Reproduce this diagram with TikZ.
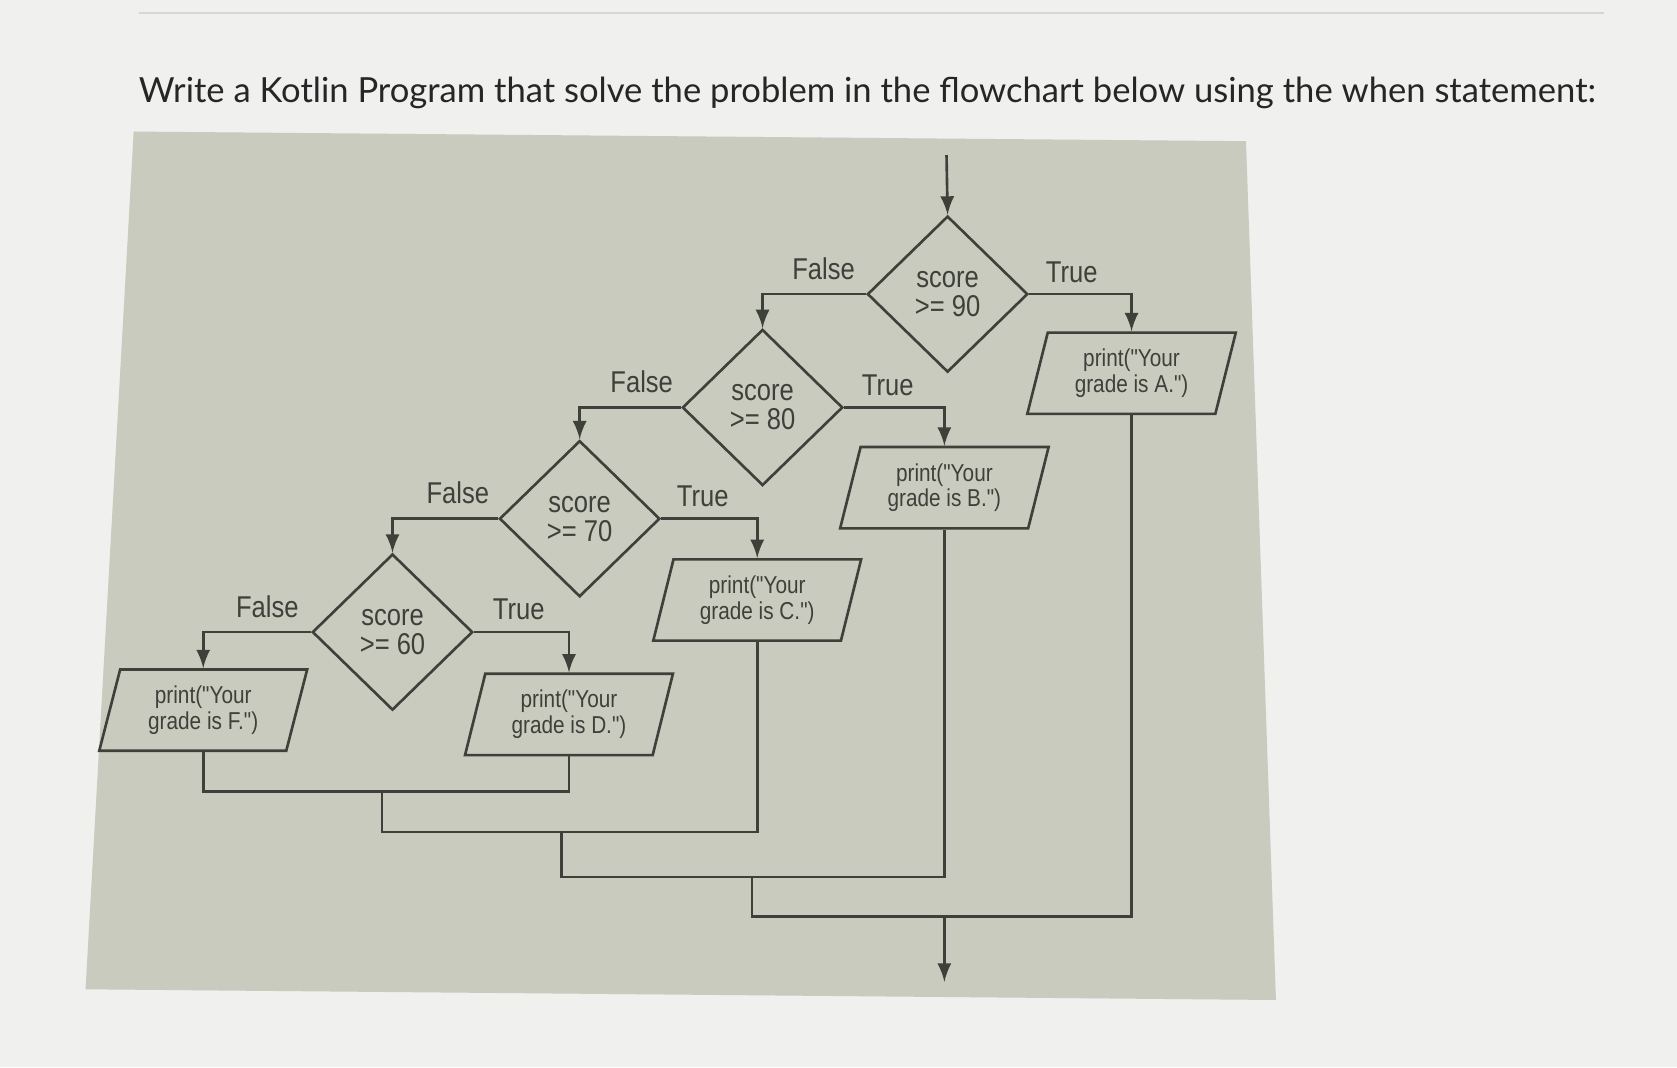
\documentclass[tikz,border=0pt]{standalone}
\usepackage{fontspec}
\setmainfont{Lato}
\newfontfamily\chartfont[FakeStretch=0.85]{Liberation Sans}
\usetikzlibrary{arrows,shapes.geometric}
\definecolor{photo}{RGB}{200,203,190}
\definecolor{ink}{RGB}{62,64,58}
\definecolor{page}{RGB}{240,240,239}
\definecolor{rule}{RGB}{214,214,214}
\tikzstyle{decision}=[draw=ink,line width=0.7pt,diamond,shape aspect=1,minimum width=15mm,minimum height=14.6mm,inner sep=0pt,align=center,text=ink,font=\chartfont\fontsize{8}{7.7}\selectfont]
\tikzstyle{output}=[draw=ink,line width=0.7pt,trapezium,trapezium left angle=74,trapezium right angle=106,trapezium stretches=true,minimum width=19.5mm,minimum height=7.6mm,inner sep=0pt,align=center,text=ink,font=\chartfont\fontsize{6.5}{6.8}\selectfont]
\tikzstyle{branch}=[text=ink,font=\chartfont\fontsize{8}{9}\selectfont]
\tikzstyle{flow}=[draw=ink,line width=0.7pt]
\begin{document}
\begin{tikzpicture}[x=0.1mm,y=-0.1mm]
\fill[page] (0,0) rectangle (1568,998);
\useasboundingbox (0,0) rectangle (1568,998);
\draw[rule,line width=0.5pt] (130,12) -- (1500,12);
\node[text=black!85,font=\fontsize{9.2}{11}\selectfont] (title) at (811,87) {Write a Kotlin Program that solve the problem in the flowchart below using the when statement:};
% photo of the flowchart
\fill[photo] (125,123) -- (1165,132) -- (1193,935) -- (80,925) -- cycle;

% decisions
\node[decision] (d90) at (886,275) {score\\>= 90};
\node[decision] (d80) at (713,381) {score\\>= 80};
\node[decision] (d70) at (542,485) {score\\>= 70};
\node[decision] (d60) at (367,591) {score\\>= 60};

% outputs
\node[output] (pA) at (1058,349) {print("Your\\grade is A.")};
\node[output] (pB) at (883,456) {print("Your\\grade is B.")};
\node[output] (pC) at (708,561) {print("Your\\grade is C.")};
\node[output] (pD) at (532,668) {print("Your\\grade is D.")};
\node[output] (pF) at (190,664) {print("Your\\grade is F.")};

% branch labels
\node[branch] (f90) at (770,251) {False};
\node[branch] (t90) at (1002,255) {True};
\node[branch] (f80) at (600,357) {False};
\node[branch] (t80) at (830,360) {True};
\node[branch] (f70) at (428,461) {False};
\node[branch] (t70) at (657,464) {True};
\node[branch] (f60) at (250,567) {False};
\node[branch] (t60) at (485,570) {True};

% joins
\coordinate (start) at (885,145);
\coordinate (j1) at (357,740);
\coordinate (j2) at (525,778);
\coordinate (j3) at (703,820);
\coordinate (j4) at (883,857);
\coordinate (stop) at (883,918);

\draw[flow,-latex] (start) -- (d90.north);
\draw[flow,-latex] (d90.west) -| (d80.north);
\draw[flow,-latex] (d90.east) -| (pA.north);
\draw[flow,-latex] (d80.west) -| (d70.north);
\draw[flow,-latex] (d80.east) -| (pB.north);
\draw[flow,-latex] (d70.west) -| (d60.north);
\draw[flow,-latex] (d70.east) -| (pC.north);
\draw[flow,-latex] (d60.west) -| (pF.north);
\draw[flow,-latex] (d60.east) -| (pD.north);

\draw[flow] (pF.south) |- (j1) -| (pD.south);
\draw[flow] (j1) |- (j2) -| (pC.south);
\draw[flow] (j2) |- (j3) -| (pB.south);
\draw[flow] (j3) |- (j4) -| (pA.south);
\draw[flow,-latex] (j4) -- (stop);
\end{tikzpicture}
\end{document}
